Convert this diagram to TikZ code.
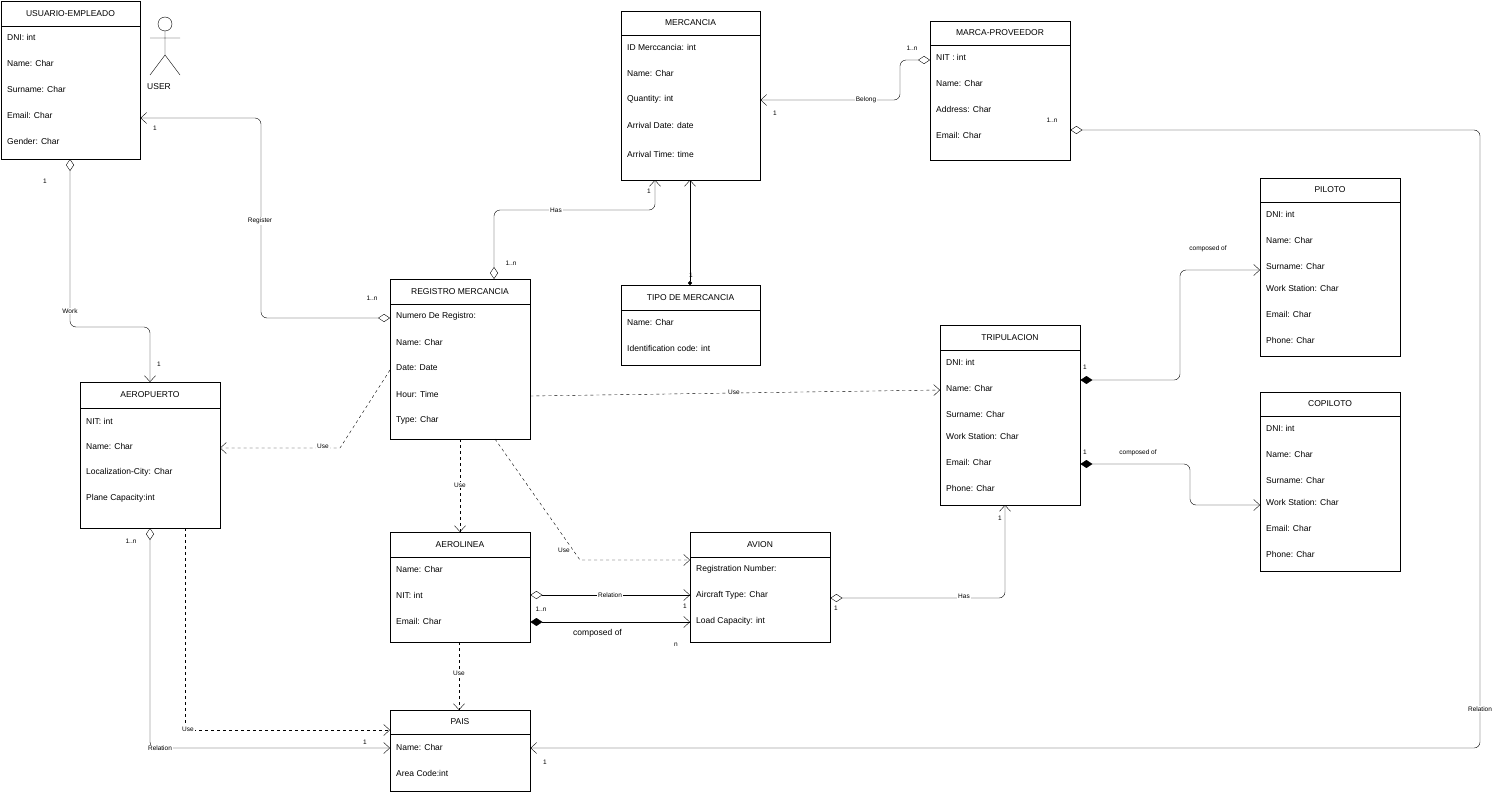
\documentclass[tikz,border=0pt]{standalone}
\usepackage{fontspec}
\setmainfont{Liberation Sans}
\usetikzlibrary{arrows.meta,calc}
\tikzset{
  cls/.style={draw,thin,anchor=north west,inner sep=0pt},
  ttl/.style={font=\fontsize{8.5}{10}\selectfont,anchor=center},
  att/.style={font=\fontsize{8.5}{10}\selectfont,anchor=west,inner sep=0pt},
  lbl/.style={font=\fontsize{6.5}{8}\selectfont,inner sep=1pt,fill=white},
  mul/.style={font=\fontsize{6.5}{8}\selectfont,inner sep=0pt},
  lnk/.style={thin,rounded corners=6pt},
  opn/.style={-{Straight Barb[length=6pt,width=11pt]}},
  agg/.style={{Diamond[open,length=12pt,width=8pt]}-{Straight Barb[length=6pt,width=11pt]}},
  cmp/.style={{Diamond[length=12pt,width=8pt]}-{Straight Barb[length=6pt,width=11pt]}},
  use/.style={thin,dashed,-{Straight Barb[length=6pt,width=11pt]}}
}
% class box: name, x1, y1, x2, y2, header bottom, title, attributes (y list)
\newcommand\umlbox[8]{%
  \node[cls,minimum width=#4pt-#2pt,minimum height=#5pt-#3pt] (#1) at (#2,#3) {};
  \draw[thin] (#2,#6) -- (#4,#6);
  \node[ttl] at ({(#2+#4)/2},{(#3+#6)/2}) {#7};
  \foreach \yy/\tt in {#8} {\node[att] at (#2+6,\yy) {\tt};}
}
\begin{document}
\begin{tikzpicture}[x=1pt,y=-1pt]
\useasboundingbox (0,0) rectangle (1501,792);

\umlbox{usu}{1}{1}{140}{159}{26}{USUARIO-EMPLEADO}{37/DNI: int,63/Name: Char,89/Surname: Char,115/Email: Char,141/Gender: Char}
\umlbox{mer}{621}{11}{760}{180}{35}{MERCANCIA}{47/ID Merccancia: int,73/Name: Char,99/Quantity: int,125/Arrival Date: date,154/Arrival Time: time}
\umlbox{mar}{930}{21}{1070}{160}{45}{MARCA-PROVEEDOR}{57/NIT : int,83/Name: Char,109/Address: Char,135/Email: Char}
\umlbox{pil}{1260}{178}{1400}{356}{202}{PILOTO}{214/DNI: int,240/Name: Char,266/Surname: Char,288/Work Station: Char,314/Email: Char,340/Phone: Char}
\umlbox{cop}{1260}{392}{1400}{571}{416}{COPILOTO}{428/DNI: int,454/Name: Char,480/Surname: Char,502/Work Station: Char,528/Email: Char,554/Phone: Char}
\umlbox{tri}{940}{325}{1080}{505}{350}{TRIPULACION}{362/DNI: int,388/Name: Char,414/Surname: Char,436/Work Station: Char,462/Email: Char,488/Phone: Char}
\umlbox{reg}{390}{279}{530}{439}{304}{REGISTRO MERCANCIA}{316/Numero De Registro:,342/Name: Char,368/Date: Date,394/Hour: Time,420/Type: Char}
\umlbox{tip}{621}{285}{760}{365}{310}{TIPO DE MERCANCIA}{322/Name: Char,348/Identification code: int}
\umlbox{aer}{80}{382}{220}{528}{408}{AEROPUERTO}{421/NIT: int,446/Name: Char,472/Localization-City: Char,498/Plane Capacity:int}
\umlbox{lin}{390}{532}{530}{642}{557}{AEROLINEA}{569/Name: Char,595/NIT: int,621/Email: Char}
\umlbox{avi}{690}{532}{830}{642}{557}{AVION}{569/Registration Number:,595/Aircraft Type: Char,621/Load Capacity: int}
\umlbox{pai}{390}{710}{530}{791}{734}{PAIS}{747/Name: Char,773/Area Code:int}

% actor
\begin{scope}[thin]
  \draw (165,24) circle (7);
  \draw (165,31) -- (165,55) (150,38) -- (180,38) (165,55) -- (150,75) (165,55) -- (180,75);
  \node[att] at (147,87) {USER};
\end{scope}

% Register
\draw[lnk,agg] ($(reg.north west)+(0,39)$) -- (261,318) -- (261,118) -- ($(usu.north east)+(0,117)$);
\node[mul] at (372,298) {1..n}; \node[mul] at (155,128) {1};
\node[lbl] at (260,221) {Register};
% Work
\draw[lnk,agg] ($(usu.north west)+(69,158)$) -- (70,327) -- (150,327) -- ($(aer.north west)+(70,0)$);
\node[mul] at (45,181) {1}; \node[mul] at (159,364) {1};
\node[lbl] at (70,311) {Work};
% Has (registro - mercancia)
\draw[lnk,agg] ($(reg.north west)+(104,0)$) -- (494,210) -- (655,210) -- ($(mer.north west)+(34,169)$);
\node[mul] at (511,263) {1..n}; \node[mul] at (649,191) {1};
\node[lbl] at (556,210) {Has};
% mercancia - tipo
\draw[thin,{Straight Barb[length=6pt,width=11pt]}-{Circle[length=4pt]}] ($(mer.north west)+(69,169)$) -- ($(tip.north west)+(69,0)$);
\node[mul] at (691,275) {1};
% Belong
\draw[lnk,agg] ($(mar.north west)+(0,39)$) -- (900,60) -- (900,100) -- ($(mer.north east)+(0,89)$);
\node[mul] at (912,48) {1..n}; \node[mul] at (775,113) {1};
\node[lbl] at (866,100) {Belong};
% Relation marca - pais
\draw[lnk,agg] ($(mar.north east)+(0,109)$) -- (1480,130) -- (1480,748) -- ($(pai.north east)+(0,38)$);
\node[mul] at (1052,120) {1..n}; \node[mul] at (545,762) {1};
\node[lbl] at (1480,709) {Relation};
% composed of -> piloto
\draw[lnk,cmp] ($(tri.north east)+(0,55)$) -- (1180,380) -- (1180,270) -- ($(pil.north west)+(0,92)$);
\node[mul] at (1085,367) {1};
\node[lbl] at (1208,249) {composed of};
% composed of -> copiloto
\draw[lnk,cmp] ($(tri.north east)+(0,139)$) -- (1190,464) -- (1190,505) -- ($(cop.north west)+(0,113)$);
\node[mul] at (1085,452) {1};
\node[lbl] at (1138,453) {composed of};
% dashed uses
\draw[use] ($(reg.north east)+(0,117)$) -- ($(tri.north west)+(0,65)$);
\node[lbl] at (734,392) {Use};
\draw[use] ($(reg.north west)+(0,91)$) -- (340,448) -- ($(aer.north west)+(140,66)$);
\node[lbl] at (323,446) {Use};
\draw[use] ($(reg.north west)+(70,160)$) -- ($(lin.north west)+(70,0)$);
\node[lbl] at (460,485) {Use};
\draw[use] ($(reg.north west)+(105,160)$) -- (580,560) -- ($(avi.north west)+(0,28)$);
\node[lbl] at (564,550) {Use};
\draw[use] ($(lin.north west)+(69,110)$) -- ($(pai.north west)+(69,0)$);
\node[lbl] at (459,673) {Use};
\draw[use] ($(aer.north west)+(105,146)$) -- (185,730) -- ($(pai.north west)+(0,20)$);
\node[lbl] at (188,729) {Use};
% aerolinea - avion
\draw[agg] ($(lin.north east)+(0,63)$) -- ($(avi.north west)+(0,63)$);
\node[lbl] at (610,595) {Relation};
\node[mul] at (541,609) {1..n}; \node[mul] at (685,606) {1};
\draw[cmp] ($(lin.north east)+(0,90)$) -- ($(avi.north west)+(0,90)$);
\node[att] at (573,633) {composed of};
\node[mul] at (676,645) {n};
% avion - tripulacion
\draw[lnk,agg] ($(avi.north east)+(0,66)$) -- (1005,598) -- ($(tri.north west)+(65,180)$);
\node[lbl] at (964,596) {Has};
\node[mul] at (836,608) {1}; \node[mul] at (1000,518) {1};
% aeropuerto - pais relation
\draw[lnk,agg] ($(aer.north west)+(70,146)$) -- (150,748) -- ($(pai.north west)+(0,38)$);
\node[mul] at (131,541) {1..n}; \node[mul] at (365,742) {1};
\node[lbl] at (160,748) {Relation};
\end{tikzpicture}
\end{document}
